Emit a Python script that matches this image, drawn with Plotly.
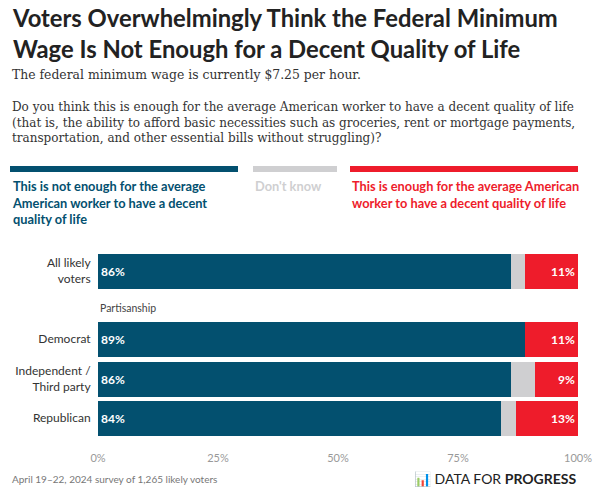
import plotly.graph_objects as go

categories = ["All likely<br>voters", "Democrat", "Independent /<br>Third party", "Republican"]
not_enough = [86, 89, 86, 84]
dont_know = [3, 0, 5, 3]
enough = [11, 11, 9, 13]
tick_vals = [0, 25, 50, 75, 100]
tick_text = ["0%", "25%", "50%", "75%", "100%"]

W, H = 598, 499
L, R, T, B = 98, 20, 240, 55
PW, PH = W - L - R, H - T - B
def px(x): return (x - L) / PW
def py(y): return (H - B - y) / PH

centers = [271, 339, 379, 418]
ypos = [c - T for c in centers]
bw = 35

NAVY, GREY, RED = "#03506f", "#cfcfd1", "#ee1c2b"
fig = go.Figure()
fig.add_bar(y=ypos, x=not_enough, orientation="h", marker_color=NAVY, width=bw,
            text=[f"{v}%" for v in not_enough], textposition="inside", insidetextanchor="start",
            textfont=dict(color="white", size=12, family="Lato", weight="bold"))
fig.add_bar(y=ypos, x=dont_know, orientation="h", marker_color=GREY, width=bw, text=None)
fig.add_bar(y=ypos, x=enough, orientation="h", marker_color=RED, width=bw,
            text=[f"{v}%" for v in enough], textposition="inside", insidetextanchor="end",
            textfont=dict(color="white", size=12, family="Lato", weight="bold"))
for t in fig.data:
    t.marker.line.width = 0
    t.hoverinfo = "skip"

fig.update_layout(
    width=W, height=H, barmode="stack", showlegend=False, bargap=0,
    margin=dict(l=L, r=R, t=T, b=B, autoexpand=False), plot_bgcolor="white", paper_bgcolor="white",
    font=dict(family="Lato", color="#333"),
    xaxis=dict(range=[0, 100], tickvals=tick_vals, ticktext=tick_text, showgrid=False, automargin=False,
               zeroline=False, tickfont=dict(size=11, color="#999"), ticks="", ticklabelstandoff=6),
    yaxis=dict(range=[PH, 0], tickvals=ypos, ticktext=categories, showgrid=False, zeroline=False, automargin=False,
               tickfont=dict(size=12, color="#333"), ticks="outside", ticklen=4, tickcolor="white"),
)

ann = []
def a(x, y, text, size, color="#222", family="Lato", xanchor="left", yanchor="top", weight="normal", align="left"):
    ann.append(dict(x=px(x), y=py(y), xref="paper", yref="paper", text=text, showarrow=False,
                    xanchor=xanchor, yanchor=yanchor, align=align,
                    font=dict(size=size, color=color, family=family, weight=weight)))

a(10, 2, "Voters Overwhelmingly Think the Federal Minimum<br>Wage Is Not Enough for a Decent Quality of Life", 23.8, "#222", "Lato", weight="bold")
a(10, 65, "The federal minimum wage is currently $7.25 per hour.", 12.4, "#333", "DejaVu Serif")
a(10, 98, "Do you think this is enough for the average American worker to have a decent quality of life<br>(that is, the ability to afford basic necessities such as groceries, rent or mortgage payments,<br>transportation, and other essential bills without struggling)?", 12.0, "#333", "DejaVu Serif")
a(10, 176, "This is not enough for the average<br>American worker to have a decent<br>quality of life", 12.8, NAVY, weight="bold")
a(253, 176, "Don't know", 12.8, GREY, weight="bold")
a(350, 176, "This is enough for the average American<br>worker to have a decent quality of life", 12.8, RED, weight="bold")
a(98, 300, "Partisanship", 10.5, "#444")
a(10, 479, "April 19–22, 2024 survey of 1,265 likely voters", 10, "#777", yanchor="middle")
a(578, 479, "<span style='font-weight:normal'>📊 DATA FOR </span><b>PROGRESS</b>", 14, "#222", xanchor="right", yanchor="middle")
fig.update_layout(annotations=ann)

shapes = []
for x0, x1, c in [(10, 238, NAVY), (253, 337, GREY), (350, 578, RED)]:
    shapes.append(dict(type="rect", xref="paper", yref="paper", x0=px(x0), x1=px(x1),
                       y0=py(172), y1=py(166), fillcolor=c, line_width=0))
fig.update_layout(shapes=shapes)

fig.write_html("out.html", config={"displayModeBar": False})
with open("out.html", encoding="utf-8") as f:
    html = f.read()
html = html.replace("<head>", "<head><style>html,body{margin:0;padding:0;overflow:hidden}</style>", 1)
with open("out.html", "w", encoding="utf-8") as f:
    f.write(html)
